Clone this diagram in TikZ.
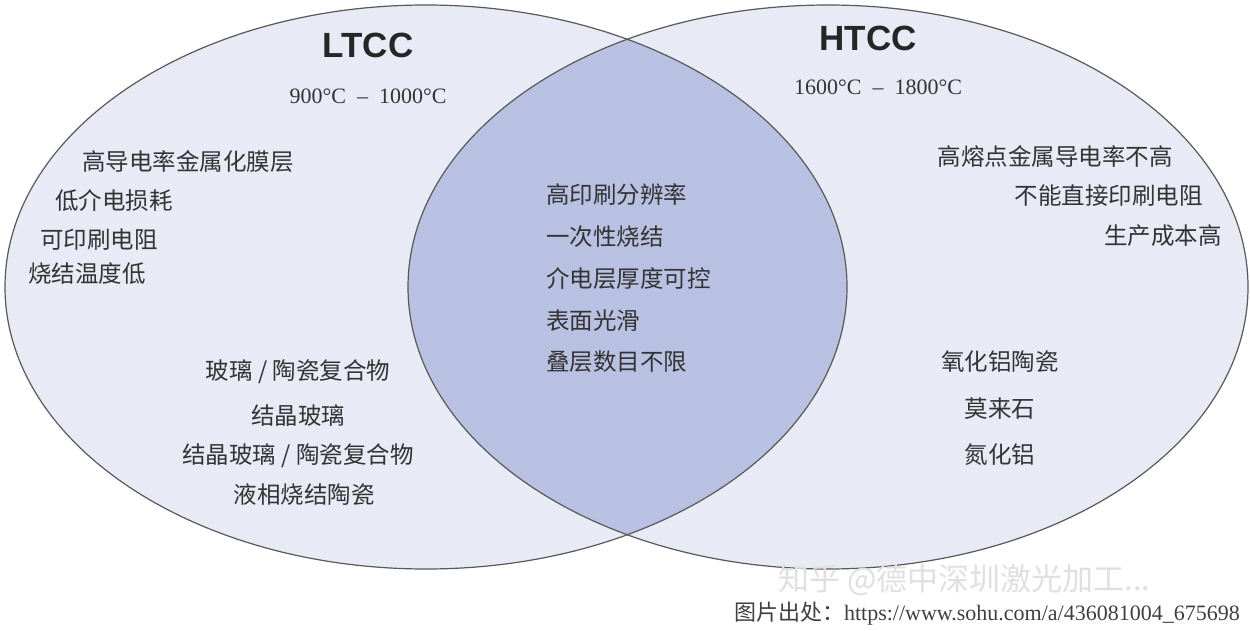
\documentclass[tikz,border=0pt]{standalone}
\usepackage{fontspec}
\setmainfont{Liberation Serif}
\newfontfamily\cjk{Noto Sans CJK SC}
\newfontfamily\hd{Liberation Sans}
\begin{document}
\begin{tikzpicture}[x=1pt,y=-1pt,
  cn/.style={font=\cjk\fontsize{23.5}{26}\selectfont,text=black!80,inner sep=0},
  tp/.style={font=\fontsize{22}{24}\selectfont,text=black!80,inner sep=0},
  ttl/.style={font=\hd\bfseries\fontsize{35}{38}\selectfont,text=black!85,inner sep=0}]
\useasboundingbox (0,0) rectangle (1250,631);
\fill[white] (0,0) rectangle (1250,631);
\path[fill={rgb,255:red,232;green,234;blue,245}] (426,287) ellipse [x radius=421,y radius=282];
\path[fill={rgb,255:red,232;green,234;blue,245}] (828,287) ellipse [x radius=420,y radius=282];
\begin{scope}
\clip (426,287) ellipse [x radius=421,y radius=282];
\fill[fill={rgb,255:red,185;green,193;blue,226}] (828,287) ellipse [x radius=420,y radius=282];
\end{scope}
\draw[black!65,line width=1.2] (426,287) ellipse [x radius=421,y radius=282];
\draw[black!65,line width=1.2] (828,287) ellipse [x radius=420,y radius=282];
\node[ttl] (lt) at (368,45) {LTCC};
\node[tp] (ltt) at (368,96) {900°C \ – \ 1000°C};
\node[ttl] (ht) at (868,38) {HTCC};
\node[tp] (htt) at (878,87) {1600°C \ – \ 1800°C};
\node[cn,anchor=west] (l1) at (82,162) {高导电率金属化膜层};
\node[cn,anchor=west] (l2) at (55,201) {低介电损耗};
\node[cn,anchor=west] (l3) at (40,240) {可印刷电阻};
\node[cn,anchor=west] (l4) at (28,274) {烧结温度低};
\node[cn] (m1) at (298,372) {玻璃 / 陶瓷复合物};
\node[cn] (m2) at (298,416) {结晶玻璃};
\node[cn] (m3) at (298,456) {结晶玻璃 / 陶瓷复合物};
\node[cn] (m4) at (304,495) {液相烧结陶瓷};
\node[cn,anchor=west] (c1) at (546,195) {高印刷分辨率};
\node[cn,anchor=west] (c2) at (546,237) {一次性烧结};
\node[cn,anchor=west] (c3) at (546,279) {介电层厚度可控};
\node[cn,anchor=west] (c4) at (546,321) {表面光滑};
\node[cn,anchor=west] (c5) at (546,362) {叠层数目不限};
\node[cn,anchor=east] (r1) at (1173,156) {高熔点金属导电率不高};
\node[cn,anchor=east] (r2) at (1203,196) {不能直接印刷电阻};
\node[cn,anchor=east] (r3) at (1222,236) {生产成本高};
\node[cn] (s1) at (1000,362) {氧化铝陶瓷};
\node[cn] (s2) at (1000,409) {莫来石};
\node[cn] (s3) at (1000,455) {氮化铝};
\node[font=\cjk\fontsize{31}{34}\selectfont,text=black!12,inner sep=0,anchor=west] (wm) at (778,580) {知乎 @德中深圳激光加工...};
\node[font=\fontsize{22}{24}\selectfont,text=black!75,inner sep=0,anchor=east] (src) at (1240,614) {{\cjk 图片出处：}https://www.sohu.com/a/436081004\_675698};
\end{tikzpicture}
\end{document}
